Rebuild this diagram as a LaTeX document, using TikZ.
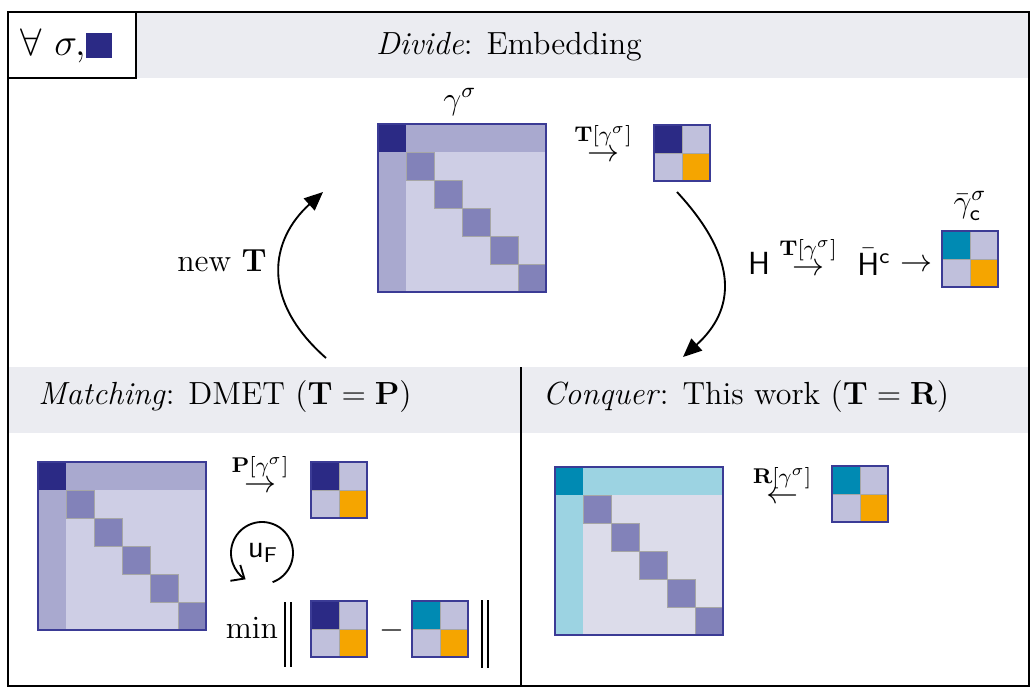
\documentclass[tikz,border=0pt]{standalone}
\usepackage{amsmath,amssymb}
\usetikzlibrary{arrows.meta}
\definecolor{navy}{HTML}{2B2A85}
\definecolor{strip}{HTML}{A9A9CF}
\definecolor{inner}{HTML}{CECEE5}
\definecolor{innerB}{HTML}{DCDCEA}
\definecolor{diag}{HTML}{8282B9}
\definecolor{lite}{HTML}{C0C0DC}
\definecolor{orng}{HTML}{F5A500}
\definecolor{teal}{HTML}{008AB3}
\definecolor{cyan2}{HTML}{9CD3E2}
\definecolor{bord}{HTML}{3B3B95}
\definecolor{band}{HTML}{EBECF1}
\tikzset{
  mborder/.style={draw=bord,line width=0.6},
  grid/.style={draw=gray!70,line width=0.3},
  conn/.style={line width=0.7,-{Triangle[length=7pt,width=6pt]}},
  txt/.style={font=\large,inner sep=0},
  pics/bigm/.style n args={3}{code={
    \fill[#3] (0,0) rectangle (168,168);
    \fill[#2] (0,0) rectangle (168,28);
    \fill[#2] (0,0) rectangle (28,168);
    \fill[#1] (0,0) rectangle (28,28);
    \foreach \i in {1,...,5}{\filldraw[fill=diag,grid] (28*\i,28*\i) rectangle (28*\i+28,28*\i+28);}
    \draw[mborder] (0,0) rectangle (168,168);
  }},
  pics/smallm/.style={code={
    \filldraw[fill=lite,grid] (0,0) rectangle (28,28);
    \fill[#1] (0,0) rectangle (28,28);
    \filldraw[fill=lite,grid] (28,0) rectangle (56,28);
    \filldraw[fill=lite,grid] (0,28) rectangle (28,56);
    \filldraw[fill=orng,grid] (28,28) rectangle (56,56);
    \draw[mborder] (0,0) rectangle (56,56);
  }}
}
\begin{document}
\begin{tikzpicture}[x=0.375pt,y=-0.375pt]
\useasboundingbox (0,0) rectangle (1035,692);
% bands
\fill[band] (8,12) rectangle (1029,78);
\fill[band] (8,367) rectangle (1029,433);
\draw[line width=0.9] (521,367) -- (521,686);
\filldraw[fill=white,line width=1.0] (8,12) rectangle (136,78);
\draw[line width=1.0] (8,12) rectangle (1029,686);
\node[txt,font=\Large,anchor=west] (forall) at (20,46) {$\forall\ \sigma,$};
\fill[navy] (86,33) rectangle (112,58);
\node[txt] (divide) at (509,47) {\textit{Divide}: Embedding};
\node[txt] (match) at (225,397) {\textit{Matching}: DMET ($\mathbf{T}=\mathbf{P}$)};
\node[txt] (conq) at (746,397) {\textit{Conquer}: This work ($\mathbf{T}=\mathbf{R}$)};
% top
\pic at (378,124) {bigm={navy}{strip}{inner}};
\node[txt] (gam) at (460,102) {$\gamma^\sigma$};
\node[txt] (tarr) at (603,142) {$\overset{\mathbf{T}[\gamma^\sigma]}{\to}$};
\pic at (654,125) {smallm=navy};
\node[txt,font=\large] (H) at (759,263) {$\mathsf{H}$};
\node[txt] (tarr2) at (808,256) {$\overset{\mathbf{T}[\gamma^\sigma]}{\to}$};
\node[txt,font=\large] (Hc) at (874,262) {$\bar{\mathsf{H}}^{\mathsf{c}}$};
\node[txt,font=\large] (to) at (916,266) {$\to$};
\pic at (942,231) {smallm=teal};
\node[txt,font=\large] (gc) at (970,206) {$\bar{\gamma}_{\mathsf{c}}^{\sigma}$};
\node[txt] (newT) at (222,261) {new $\mathbf{T}$};
\coordinate (a1) at (677,192); \coordinate (a2) at (683,357);
\draw[conn] (a1) .. controls (740,260) and (735,310) .. (a2);
\coordinate (b1) at (326,358); \coordinate (b2) at (323,192);
\draw[conn] (b1) .. controls (260,300) and (270,240) .. (b2);
% bottom-left
\pic at (38,462) {bigm={navy}{strip}{inner}};
\node[txt] (parr) at (260,473) {$\overset{\mathbf{P}[\gamma^\sigma]}{\to}$};
\pic at (311,462) {smallm=navy};
\node[txt,font=\large] (uf) at (263,553) {$\mathsf{u}_{\mathsf{F}}$};
\draw[line width=0.7,-{Straight Barb[length=4pt,width=7pt]}] (262,553) ++(70:31) arc[start angle=70,end angle=-238,radius=31];
\node[txt,font=\large] (min) at (252,628) {$\min$};
\draw[line width=0.7] (285,602)--(285,667) (291,602)--(291,667) (482,600)--(482,668) (488,600)--(488,668);
\pic at (311,601) {smallm=navy};
\node[txt] (minus) at (392,630) {$-$};
\pic at (412,601) {smallm=teal};
% bottom-right
\pic at (555,467) {bigm={teal}{cyan2}{innerB}};
\node[txt] (rarr) at (782,484) {$\overset{\mathbf{R}[\gamma^\sigma]}{\leftarrow}$};
\pic at (832,466) {smallm=teal};
\end{tikzpicture}
\end{document}
